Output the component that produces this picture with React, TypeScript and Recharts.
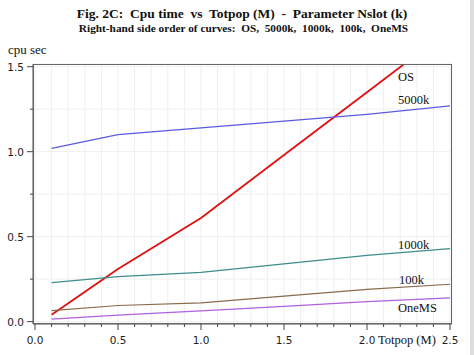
import { LineChart, Line, XAxis, YAxis, CartesianGrid } from "recharts";

const totpop = [0.1, 0.5, 1.0, 1.5, 2.0, 2.5];
const os = [0.04, 0.31, 0.61, 0.98, 1.35, 1.72];
const n5000k = [1.02, 1.1, 1.14, 1.18, 1.22, 1.27];
const n1000k = [0.23, 0.265, 0.29, 0.34, 0.39, 0.43];
const n100k = [0.065, 0.095, 0.11, 0.15, 0.19, 0.22];
const oneMS = [0.015, 0.038, 0.063, 0.09, 0.118, 0.14];

const xTicks = [0, 0.1, 0.2, 0.3, 0.4, 0.5, 0.6, 0.7, 0.8, 0.9, 1.0, 1.1, 1.2, 1.3, 1.4, 1.5, 1.6, 1.7, 1.8, 1.9, 2.0, 2.1, 2.2, 2.3, 2.4, 2.5];
const yTicks = [0, 0.25, 0.5, 0.75, 1.0, 1.25, 1.5];

const data = totpop.map((x, i) => ({
  x,
  os: os[i],
  n5000k: n5000k[i],
  n1000k: n1000k[i],
  n100k: n100k[i],
  oneMS: oneMS[i],
}));

const isMajor = (v: number, step: number) => Math.abs(v / step - Math.round(v / step)) < 1e-6;

const XTick = (props: any) => {
  const { x, y, payload } = props;
  const major = isMajor(payload.value, 0.5);
  return (
    <g>
      <line x1={x} x2={x} y1={y - 8} y2={y - 8 + (major ? 6 : 3)} stroke="#444" />
      {major && (
        <text x={x} y={y + 12} textAnchor="middle" fontSize={10.5} fontFamily="DejaVu Sans" fill="#222">
          {payload.value.toFixed(1)}
        </text>
      )}
    </g>
  );
};

const YTick = (props: any) => {
  const { x, y, payload } = props;
  const major = isMajor(payload.value, 0.5);
  return (
    <g>
      <line x1={x + 8} x2={x + 8 - (major ? 6 : 3)} y1={y} y2={y} stroke="#444" />
      {major && (
        <text x={x - 1} y={y + 4} textAnchor="end" fontSize={10.5} fontFamily="DejaVu Sans" fill="#222">
          {payload.value.toFixed(1)}
        </text>
      )}
    </g>
  );
};

const serif = "'Liberation Serif', 'Times New Roman', serif";

const curveLabel = (text: string, left: number, top: number) => (
  <div style={{ position: "absolute", left, top, fontFamily: serif, fontSize: 12.5, color: "#111", lineHeight: "14px" }}>
    {text}
  </div>
);

export default function App() {
  return (
    <div style={{ position: "absolute", left: 0, top: 0, width: 474, height: 355, background: "#fff", overflow: "hidden" }}>
      <div style={{ position: "absolute", top: 6, left: 0, width: 484, textAlign: "center", fontFamily: serif, fontWeight: "bold", fontSize: 13.5, color: "#111" }}>
        Fig. 2C:&nbsp; Cpu time&nbsp; vs&nbsp; Totpop (M)&nbsp; -&nbsp; Parameter Nslot (k)
      </div>
      <div style={{ position: "absolute", top: 22, left: 0, width: 487, textAlign: "center", fontFamily: serif, fontWeight: "bold", fontSize: 11.3, color: "#111" }}>
        Right-hand side order of curves:&nbsp; OS,&nbsp; 5000k,&nbsp; 1000k,&nbsp; 100k,&nbsp; OneMS
      </div>
      <div style={{ position: "absolute", left: 8, top: 42, fontFamily: serif, fontSize: 13, color: "#111" }}>cpu sec</div>

      <LineChart width={474} height={355} data={data} margin={{ top: 64, right: 22, bottom: 0, left: 0 }}>
        <CartesianGrid stroke="#efefef" />
        <XAxis
          dataKey="x"
          type="number"
          domain={[-0.012, 2.512]}
          ticks={xTicks}
          interval={0}
          height={31}
          axisLine={{ stroke: "#555" }}
          tickLine={false}
          tick={<XTick />}
          allowDataOverflow
        />
        <YAxis
          type="number"
          domain={[-0.014, 1.516]}
          ticks={yTicks}
          interval={0}
          width={33}
          axisLine={{ stroke: "#555" }}
          tickLine={false}
          tick={<YTick />}
          allowDataOverflow
        />
        <Line dataKey="os" stroke="#e01010" strokeWidth={1.8} dot={false} isAnimationActive={false} />
        <Line dataKey="n5000k" stroke="#5a5ae0" strokeWidth={1.2} dot={false} isAnimationActive={false} />
        <Line dataKey="n1000k" stroke="#3f8c8c" strokeWidth={1.2} dot={false} isAnimationActive={false} />
        <Line dataKey="n100k" stroke="#8a6a4a" strokeWidth={1.2} dot={false} isAnimationActive={false} />
        <Line dataKey="oneMS" stroke="#b060e0" strokeWidth={1.2} dot={false} isAnimationActive={false} />
      </LineChart>

      <div style={{ position: "absolute", left: 33, top: 64, width: 419, height: 260, border: "1px solid #666", boxSizing: "border-box", pointerEvents: "none" }} />

      {curveLabel("OS", 398, 70)}
      {curveLabel("5000k", 398, 93)}
      {curveLabel("1000k", 398, 238)}
      {curveLabel("100k", 399, 273)}
      {curveLabel("OneMS", 398, 301)}

      <div style={{ position: "absolute", left: 378, top: 332, fontFamily: serif, fontSize: 12.5, color: "#111", lineHeight: "16px" }}>Totpop (M)</div>
      <div style={{ position: "absolute", left: 470, top: 0, width: 4, height: 355, background: "#ddd" }} />
    </div>
  );
}
